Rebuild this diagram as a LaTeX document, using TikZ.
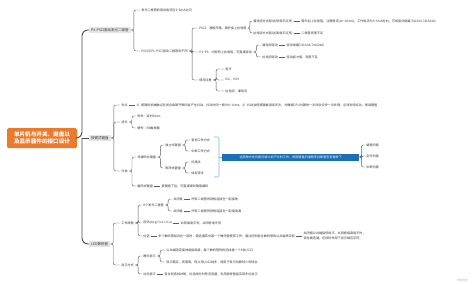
\documentclass[tikz,border=0pt]{standalone}
\usepackage{fontspec}
\setmainfont{Noto Sans CJK SC}
\usepackage{tikz}
\usepackage{xcolor}
\usetikzlibrary{positioning}

\definecolor{rootorange}{HTML}{EC7A2C}
\definecolor{keyblue}{HTML}{1A6FB5}
\definecolor{braceblue}{HTML}{7DB3E0}
\definecolor{hubgray}{HTML}{E4E4E4}
\definecolor{inkgray}{HTML}{333333}
\definecolor{linegray}{HTML}{5C5C5C}

\begin{document}
\begin{tikzpicture}[
          x=1pt, y=-1pt,
          every node/.style={font=\fontsize{3.1}{4}\selectfont, text=inkgray},
          root/.style={fill=rootorange, rounded corners=1.5pt, minimum width=70pt, minimum height=20pt, align=center, inner sep=1pt, font=\fontsize{5.6}{7.6}\selectfont\bfseries, text=white},
          hub/.style={fill=hubgray, anchor=west, inner xsep=2pt, inner ysep=1.6pt, font=\fontsize{3.5}{4}\selectfont},
          leaf/.style={anchor=west, inner xsep=1.2pt, inner ysep=1pt},
          hl/.style={fill=keyblue, anchor=west, minimum width=137pt, minimum height=7pt, inner sep=1pt, text=white},
          trunk/.style={draw=linegray!80!black, line width=0.9pt, rounded corners=6pt},
          link/.style={draw=linegray, line width=0.45pt, rounded corners=2pt},
          sumbrace/.style={draw=braceblue, line width=0.6pt, rounded corners=1.5pt}
      ]
        \useasboundingbox[fill=white] (0,0) rectangle (474,284);

        % root and main branches
        \node[root] (root) at (42,138) {单片机与开关、键盘以\\及显示器件的接口设计};
        \node[hub] (pio) at (89,30) {P0-P3口驱动发光二极管};
        \node[hub] (kbd) at (89,138) {按键式键盘};
        \node[hub] (led) at (89,244) {LED数码管};
        \coordinate (tk) at (82,138);
        \draw[trunk] (root.east) -- (tk) |- (pio.west);
        \draw[trunk] (tk) |- (led.west);
        \draw[trunk] (tk) -- (kbd.west);

        % P0-P3 ports
        \node[leaf] (dl) at (140,10) {发光二极管的驱动电流在3\textasciitilde5mA之间};
        \node[leaf] (pd) at (140,51) {P0口与P1-P3口驱动二极管的不同};
        \node[leaf] (pz) at (198,28) {P0口：漏极开路，需外接上拉电阻};
        \node[leaf] (pzg) at (252,21) {灌电流方式驱动(低电平点亮)};
        \node[leaf, right=6pt of pzg] (pzgx) {需外加上拉电阻，注意限流(10\textasciitilde20mA)，工作电流为3\textasciitilde5mA左右，可加驱动电路(74LS04,74LS240)};
        \node[leaf] (pzl) at (252,33) {拉电流方式驱动(高电平点亮)};
        \node[leaf, right=6pt of pzl] (pzlx) {二极管亮度不足};
        \node[leaf] (py) at (198,52) {P1\textasciitilde P3：内部有上拉电阻，可直接驱动};
        \node[leaf] (pyg) at (261,45) {灌电流驱动};
        \node[leaf, right=6pt of pyg] (pygx) {驱动电路(74LS04,74LS240)};
        \node[leaf] (pyl) at (261,57) {拉电流驱动};
        \node[leaf, right=6pt of pyl] (pylx) {驱动能力弱，亮度不足};
        \node[leaf] (pn) at (198,80) {使用注意};
        \node[leaf] (pn1) at (224,69) {电平};
        \node[leaf] (pn2) at (224,80) {IOL，IOH};
        \node[leaf] (pn3) at (224,91) {拉电流、灌电流};

        \foreach \n in {dl,pd} \draw[link] (pio.east) -- ++(3,0) |- (\n.west);
        \foreach \n in {pz,py,pn} \draw[link] (pd.east) -- ++(3,0) |- (\n.west);
        \foreach \n in {pzg,pzl} \draw[link] (pz.east) -- ++(2,0) |- (\n.west);
        \foreach \n in {pyg,pyl} \draw[link] (py.east) -- ++(3,0) |- (\n.west);
        \foreach \n in {pn1,pn2,pn3} \draw[link] (pn.east) -- ++(3,0) |- (\n.west);
        \draw[link] (pzg.east) -- (pzgx.west);
        \draw[link] (pzl.east) -- (pzlx.west);
        \draw[link] (pyg.east) -- (pygx.west);
        \draw[link] (pyl.east) -- (pylx.west);

        % keyboard
        \node[leaf] (qd) at (120,105) {去抖};
        \node[leaf, right=6pt of qd] (qdx) {1）按键的机械触点在闭合或断开瞬间会产生抖动，抖动时间一般为5\textasciitilde10ms；2）抖动会使按键被误读多次，为确保CPU对键的一次闭合仅作一次处理，必须去除抖动，再读键值};
        \node[leaf] (xd) at (120,122) {消抖};
        \node[leaf] (xd1) at (136,116) {软件：延时10ms};
        \node[leaf] (xd2) at (136,128) {硬件：RS触发器};
        \node[leaf] (fl) at (120,171) {分类};
        \node[leaf] (fb) at (136,157) {非编码式键盘};
        \node[leaf] (dlj) at (164,145) {独立式键盘};
        \node[leaf] (cx) at (190,140) {查询工作方式};
        \node[leaf] (zd) at (190,151) {中断工作方式};
        \node[leaf] (jz) at (164,168) {矩阵式键盘};
        \node[leaf] (sm) at (190,162) {扫描法};
        \node[leaf] (fz) at (190,173) {线反转法};
        \node[leaf] (bm) at (136,186) {编码式键盘};
        \node[leaf, right=6pt of bm] (bmx) {按键按下后，可直接得到键值编码};

        \foreach \n in {qd,xd,fl} \draw[link] (kbd.east) -- ++(3,0) |- (\n.west);
        \foreach \n in {xd1,xd2} \draw[link] (xd.east) -- ++(3,0) |- (\n.west);
        \foreach \n in {fb,bm} \draw[link] (fl.east) -- ++(3,0) |- (\n.west);
        \foreach \n in {dlj,jz} \draw[link] (fb.east) -- ++(3,0) |- (\n.west);
        \foreach \n in {cx,zd} \draw[link] (dlj.east) -- ++(3,0) |- (\n.west);
        \foreach \n in {sm,fz} \draw[link] (jz.east) -- ++(3,0) |- (\n.west);
        \draw[link] (qd.east) -- (qdx.west);
        \draw[link] (bm.east) -- (bmx.west);

        % summary of the scan modes
        \coordinate (bt) at (214,137);
        \coordinate (btr) at (219,137);
        \coordinate (bbr) at (219,177);
        \coordinate (bb) at (214,177);
        \coordinate (bmid) at (219,157);
        \draw[sumbrace] (bt) -- (btr) -- (bbr) -- (bb);
        \node[hl] (bl) at (222,157) {这两种方式均是在单片机不忙时工作，即用键盘扫描程序判断是否有键按下};
        \draw[sumbrace] (bmid) -- (bl.west);
        \node[leaf] (bl1) at (365,145) {编程扫描};
        \node[leaf] (bl2) at (365,156) {定时扫描};
        \node[leaf] (bl3) at (365,167) {中断扫描};
        \foreach \n in {bl1,bl2,bl3} \draw[link] (bl.east) -- ++(2,0) |- (\n.west);

        % LED display
        \node[leaf] (gz) at (120,223) {工作原理};
        \node[leaf] (eg) at (142,205) {8个发光二极管};
        \node[leaf] (gy) at (172,199) {共阴极};
        \node[leaf, right=6pt of gy] (gyx) {所有二极管的阴极连接在一起接地};
        \node[leaf] (gya) at (172,211) {共阳极};
        \node[leaf, right=6pt of gya] (gyax) {所有二极管的阳极连接在一起接电源};
        \node[leaf] (dm) at (142,223) {段码(dp g f e d c b a)};
        \node[leaf, right=6pt of dm] (dmx) {共阴高电平亮，共阳低电平亮};
        \node[leaf] (wx) at (142,236) {位选};
        \node[leaf, right=6pt of wx] (wxx) {多个数码管组合在一起时，需选通其中某一个数码管使其工作，通过控制各位数码管的公共端来实现};
        \node[leaf, right=6pt of wxx, align=left, font=\fontsize{3.1}{5.6}\selectfont] (wxy) {共阴极公共端接低电平、共阳极接高电平时，\\该位被选通，在段码作用下显示相应字符。};
        \node[leaf] (xs) at (120,265) {显示方式};
        \node[leaf] (jt) at (142,256) {静态显示};
        \node[leaf] (jt1) at (165,250) {公共端固定接地或接电源，每个数码管的段选线接一个8位I/O口};
        \node[leaf] (jt2) at (165,262) {显示稳定、亮度高，但占用I/O口线多，适用于显示位数较少的场合};
        \node[leaf] (dt) at (142,274) {动态显示};
        \node[leaf, right=6pt of dt] (dtx) {各位段选线并联，位选线分时轮流选通，利用视觉暂留实现多位显示};

        \foreach \n in {gz,xs} \draw[link] (led.east) -- ++(3,0) |- (\n.west);
        \foreach \n in {eg,dm,wx} \draw[link] (gz.east) -- ++(3,0) |- (\n.west);
        \foreach \n in {gy,gya} \draw[link] (eg.east) -- ++(3,0) |- (\n.west);
        \foreach \n in {jt,dt} \draw[link] (xs.east) -- ++(3,0) |- (\n.west);
        \foreach \n in {jt1,jt2} \draw[link] (jt.east) -- ++(3,0) |- (\n.west);
        \draw[link] (gy.east) -- (gyx.west);
        \draw[link] (gya.east) -- (gyax.west);
        \draw[link] (dm.east) -- (dmx.west);
        \draw[link] (wx.east) -- (wxx.west);
        \draw[link] (wxx.east) -- (wxy.west);
        \draw[link] (dt.east) -- (dtx.west);

        \node[anchor=east, font=\fontsize{2.6}{3}\selectfont, text=gray!55] (wm) at (471,281) {思维导图};
      \end{tikzpicture}
\end{document}
